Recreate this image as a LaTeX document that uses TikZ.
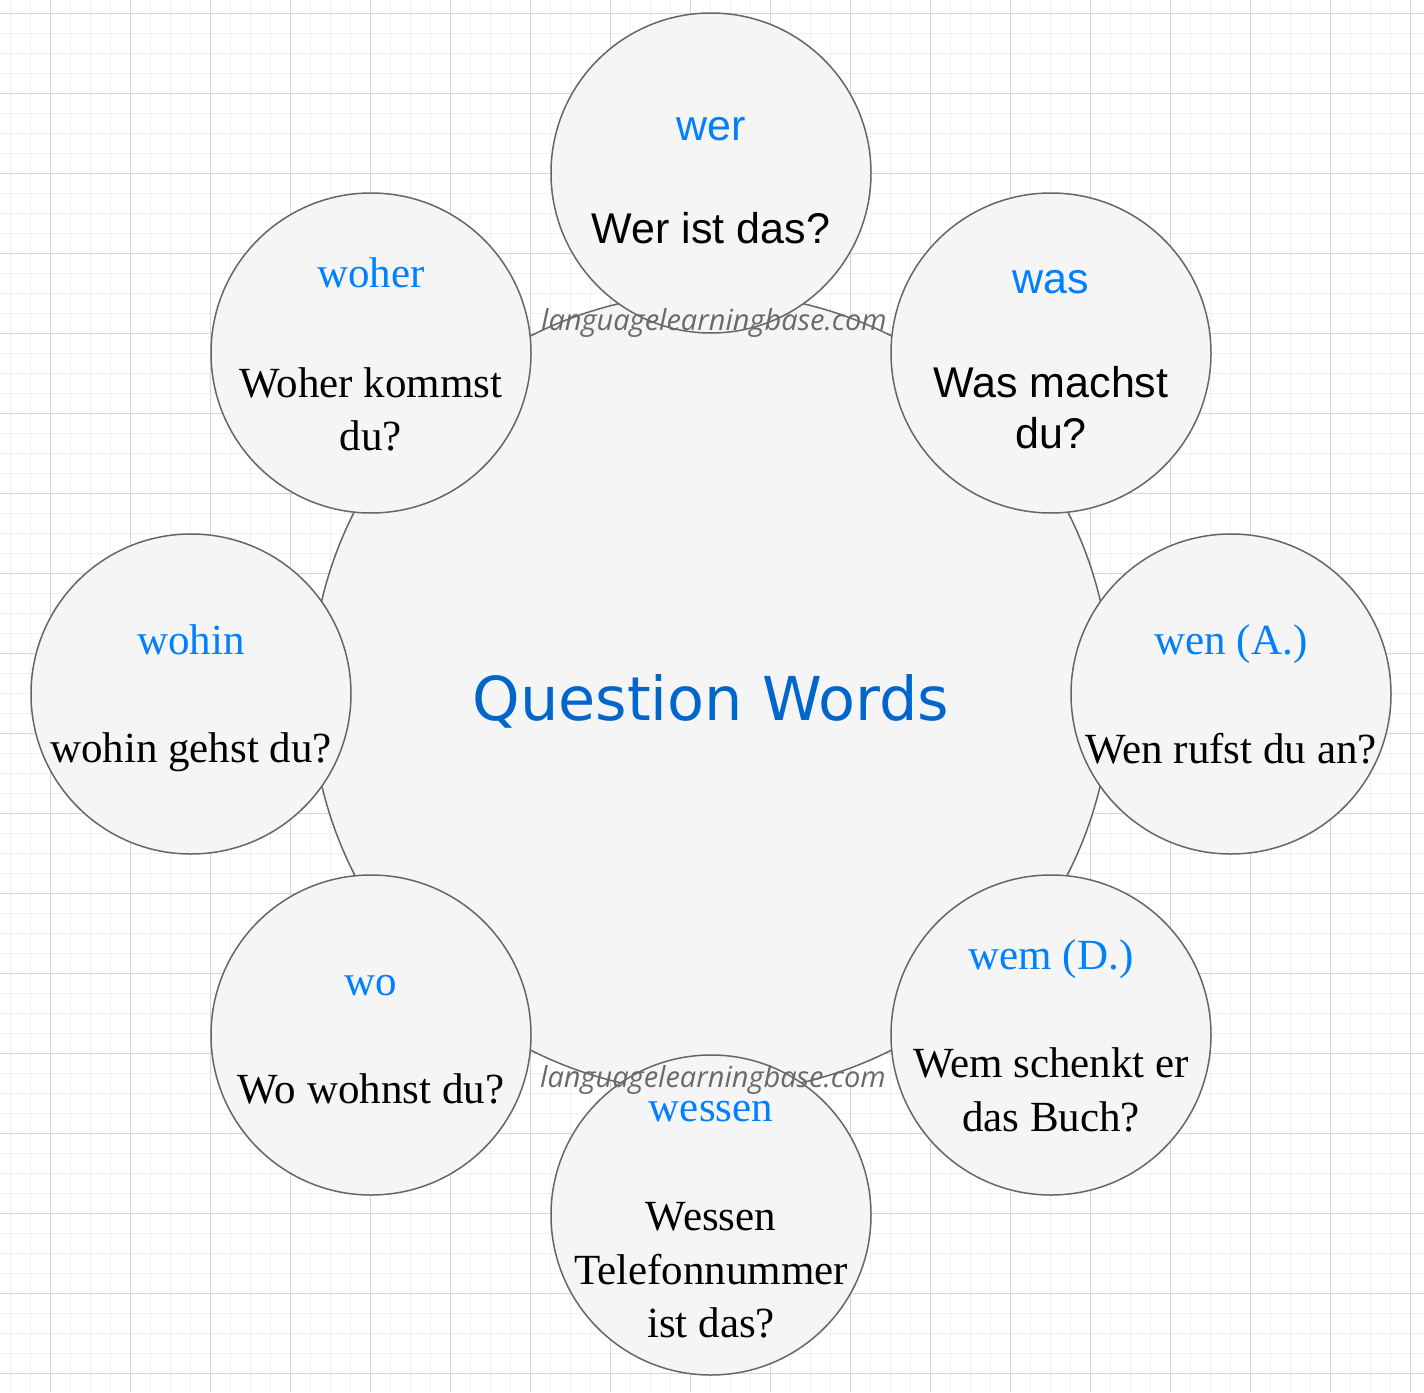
\documentclass[tikz,border=0pt]{standalone}
\usepackage{fontspec}
\setmainfont{Liberation Serif}
\newfontfamily\helv{Liberation Sans}
\newfontfamily\verd{DejaVu Sans}
\newfontfamily\wmfont{Open Sans}
\definecolor{gridminor}{HTML}{F0F0F0}
\definecolor{gridmajor}{HTML}{D6D6D6}
\definecolor{circfill}{HTML}{F5F5F5}
\definecolor{circline}{HTML}{666666}
\definecolor{headblue}{HTML}{007FFF}
\definecolor{titleblue}{HTML}{0066CC}
\definecolor{wmgray}{HTML}{6A6A6A}
\tikzset{
  minorline/.style={gridminor, line width=1pt},
  majorline/.style={gridmajor, line width=1pt},
  bigcircle/.style={circle, draw=circline, fill=circfill, line width=1.5pt, inner sep=0pt, minimum size=800pt},
  qcircle/.style={circle, draw=circline, fill=circfill, line width=1.5pt, inner sep=0pt, minimum size=320pt},
  headsans/.style={anchor=base, inner sep=0pt, text=headblue, font=\helv\fontsize{43}{52}\selectfont},
  bodysans/.style={anchor=base, inner sep=0pt, text=black, font=\helv\fontsize{43}{52}\selectfont},
  headserif/.style={anchor=base, inner sep=0pt, text=headblue, font=\fontsize{43}{54}\selectfont},
  bodyserif/.style={anchor=base, inner sep=0pt, text=black, font=\fontsize{43}{54}\selectfont},
  titletext/.style={anchor=base, inner sep=0pt, text=titleblue, font=\verd\fontsize{60.5}{70}\selectfont},
  watermark/.style={anchor=base, inner sep=0pt, text=wmgray, font=\wmfont\itshape\fontsize{29}{33}\selectfont}
}
\begin{document}
\begin{tikzpicture}[x=1pt,y=-1pt]
\useasboundingbox (0,0) rectangle (1424,1392);
\fill[white] (0,0) rectangle (1424,1392);
% grid
\foreach \x in {10,30,...,1424} \draw[minorline] (\x,0) -- (\x,1392);
\foreach \y in {13,33,...,1392} \draw[minorline] (0,\y) -- (1424,\y);
\foreach \x in {50,130,...,1424} \draw[majorline] (\x,0) -- (\x,1392);
\foreach \y in {13,93,...,1392} \draw[majorline] (0,\y) -- (1424,\y);
% central circle
\node[bigcircle] (hub) at (711,693) {};
% question circles
\node[qcircle] (wer) at (711,173) {};
\node[qcircle] (was) at (1051,353) {};
\node[qcircle] (wen) at (1231,694) {};
\node[qcircle] (wem) at (1051,1035) {};
\node[qcircle] (wessen) at (711,1215) {};
\node[qcircle] (wo) at (371,1035) {};
\node[qcircle] (wohin) at (191,694) {};
\node[qcircle] (woher) at (371,353) {};
% title
\node[titletext] (title) at (711,720) {Question Words};
% wer
\node[headsans] (werH) at ([yshift=33pt]wer.center) {wer};
\node[bodysans] (werB) at ([yshift=-70pt]wer.center) {Wer ist das?};
% was
\node[headsans] (wasH) at ([yshift=60pt]was.center) {was};
\node[bodysans] (wasB1) at ([yshift=-44pt]was.center) {Was machst};
\node[bodysans] (wasB2) at ([yshift=-95pt]was.center) {du?};
% wen
\node[headserif] (wenH) at ([yshift=40pt]wen.center) {wen (A.)};
\node[bodyserif] (wenB) at ([yshift=-69pt]wen.center) {Wen rufst du an?};
% wem
\node[headserif] (wemH) at ([yshift=66pt]wem.center) {wem (D.)};
\node[bodyserif] (wemB1) at ([yshift=-42pt]wem.center) {Wem schenkt er};
\node[bodyserif] (wemB2) at ([yshift=-96pt]wem.center) {das Buch?};
% wessen
\node[headserif] (wessenH) at ([yshift=94pt]wessen.center) {wessen};
\node[bodyserif] (wessenB1) at ([yshift=-15pt]wessen.center) {Wessen};
\node[bodyserif] (wessenB2) at ([yshift=-69pt]wessen.center) {Telefonnummer};
\node[bodyserif] (wessenB3) at ([yshift=-122pt]wessen.center) {ist das?};
% wo
\node[headserif] (woH) at ([yshift=40pt]wo.center) {wo};
\node[bodyserif] (woB) at ([yshift=-68pt]wo.center) {Wo wohnst du?};
% wohin
\node[headserif] (wohinH) at ([yshift=40pt]wohin.center) {wohin};
\node[bodyserif] (wohinB) at ([yshift=-68pt]wohin.center) {wohin gehst du?};
% woher
\node[headserif] (woherH) at ([yshift=66pt]woher.center) {woher};
\node[bodyserif] (woherB1) at ([yshift=-44pt]woher.center) {Woher kommst};
\node[bodyserif] (woherB2) at ([yshift=-97pt]woher.center) {du?};
% watermarks
\node[watermark] (wm1) at (714,330) {languagelearningbase.com};
\node[watermark] (wm2) at (713,1087) {languagelearningbase.com};
\end{tikzpicture}
\end{document}
